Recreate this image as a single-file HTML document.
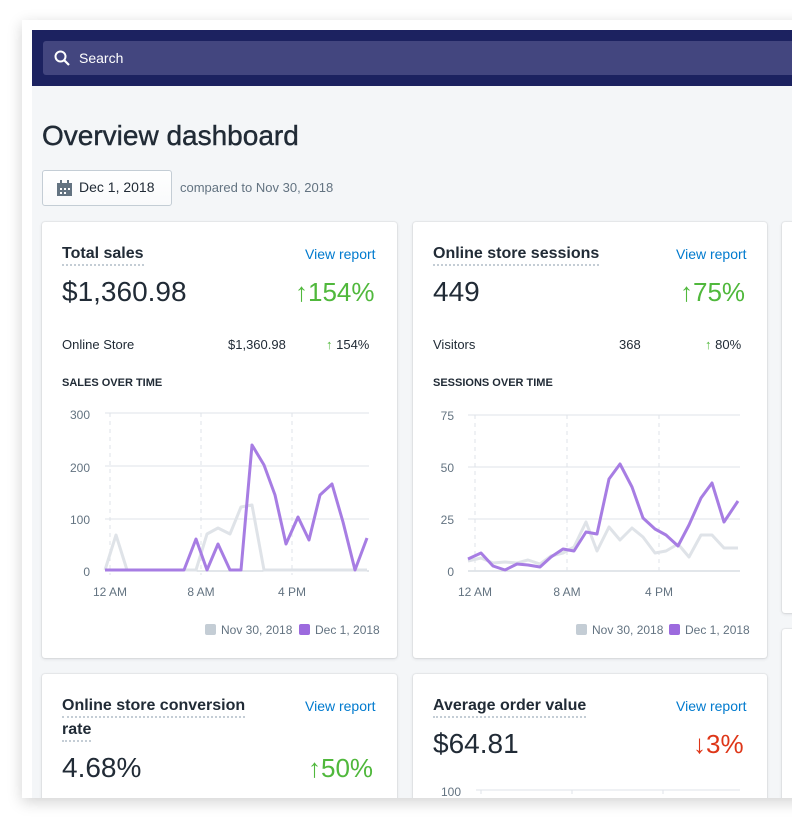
<!DOCTYPE html>
<html><head><meta charset="utf-8"><style>
*{margin:0;padding:0;box-sizing:border-box}
body{width:792px;height:840px;background:#fff;position:relative;overflow:hidden;font-family:"Liberation Sans",sans-serif;color:#212b36}
.win{position:absolute;left:22px;top:20px;width:800px;height:778px;background:#fff;box-shadow:0 4px 14px rgba(0,0,0,.18)}
.main{position:absolute;left:32px;top:30px;width:780px;height:768px;background:#f4f6f8;overflow:hidden}
.nav{position:absolute;left:0;top:0;width:780px;height:56px;background:#1c2260}
.search{position:absolute;left:11px;top:11px;width:760px;height:34px;background:#43467f;border-radius:3px;color:#fff;font-size:14px}
.card{position:absolute;background:#fff;border-radius:3px;box-shadow:0 0 0 1px rgba(63,63,68,.05),0 1px 3px rgba(63,63,68,.15)}
.t{position:absolute;white-space:nowrap}
.title{font-size:16px;font-weight:bold;color:#212b36;border-bottom:2px dotted #c4cdd5;line-height:20px}
.link{font-size:14px;color:#007ace}
.big{font-size:28px;color:#212b36}
.up{font-size:26px;color:#50b83c}
.sm{font-size:13px;color:#212b36}
.cap{font-size:11px;font-weight:bold;color:#212b36}
</style></head><body>
<div class="win"></div>
<div class="main">
 <div class="nav"><div class="search">
  <svg style="position:absolute;left:11px;top:9px" width="16" height="16" viewBox="0 0 16 16"><circle cx="6.5" cy="6.5" r="5" fill="none" stroke="#fff" stroke-width="2"/><line x1="10" y1="10" x2="15" y2="15" stroke="#fff" stroke-width="2.2"/></svg>
  <span class="t" style="left:36px;top:9px;font-size:14px">Search</span></div></div>
 <div class="t" style="left:10px;top:90px;font-size:28px;color:#212b36;-webkit-text-stroke:0.4px #212b36">Overview dashboard</div>
 <div style="position:absolute;left:10px;top:140px;width:130px;height:36px;background:linear-gradient(#fff,#f9fafb);border:1px solid #c4cdd5;border-radius:3px"></div>
 <svg style="position:absolute;left:24px;top:150px" width="17" height="17" viewBox="0 0 17 17"><rect x="1" y="3" width="15" height="13" fill="#637381"/><rect x="4" y="0" width="2" height="4" fill="#637381"/><rect x="11" y="0" width="2" height="4" fill="#637381"/><g fill="#fff"><rect x="4" y="8" width="2" height="2"/><rect x="8" y="8" width="2" height="2"/><rect x="12" y="8" width="2" height="2"/><rect x="4" y="12" width="2" height="2"/><rect x="8" y="12" width="2" height="2"/></g></svg>
 <div class="t" style="left:47px;top:149px;font-size:14px;color:#212b36">Dec 1, 2018</div>
 <div class="t" style="left:148px;top:150px;font-size:13px;color:#637381">compared to Nov 30, 2018</div>
</div>

<!-- card 1 -->
<div class="card" style="left:42px;top:222px;width:355px;height:436px"></div>
<div class="t title" style="left:62px;top:244px">Total sales</div>
<div class="t link" style="left:305px;top:246px">View report</div>
<div class="t big" style="left:62px;top:276px">$1,360.98</div>
<div class="t up" style="left:295px;top:277px">↑154%</div>
<div class="t sm" style="left:62px;top:337px">Online Store</div>
<div class="t sm" style="left:228px;top:337px">$1,360.98</div>
<div class="t sm" style="left:326px;top:337px"><span style="color:#50b83c">↑</span> 154%</div>
<div class="t cap" style="left:62px;top:377px">SALES OVER TIME</div>

<!-- card 2 -->
<div class="card" style="left:413px;top:222px;width:354px;height:436px"></div>
<div class="t title" style="left:433px;top:244px">Online store sessions</div>
<div class="t link" style="left:676px;top:246px">View report</div>
<div class="t big" style="left:433px;top:276px">449</div>
<div class="t up" style="left:680px;top:277px">↑75%</div>
<div class="t sm" style="left:433px;top:337px">Visitors</div>
<div class="t sm" style="left:619px;top:337px">368</div>
<div class="t sm" style="left:705px;top:337px"><span style="color:#50b83c">↑</span> 80%</div>
<div class="t cap" style="left:433px;top:377px">SESSIONS OVER TIME</div>

<!-- bottom + right (clipped) -->
<div style="position:absolute;left:0;top:0;width:792px;height:798px;overflow:hidden">
<div class="card" style="left:782px;top:222px;width:40px;height:391px"></div>
<div class="card" style="left:782px;top:629px;width:40px;height:200px"></div>
<div class="card" style="left:42px;top:674px;width:355px;height:200px"></div>
<div class="card" style="left:413px;top:674px;width:354px;height:200px"></div>
<div class="t title" style="left:62px;top:696px;border:none">Online store conversion</div>
<div style="position:absolute;left:62px;top:716px;width:183px;border-bottom:2px dotted #c4cdd5"></div>
<div class="t title" style="left:62px;top:720px">rate</div>
<div class="t link" style="left:305px;top:698px">View report</div>
<div class="t big" style="left:62px;top:752px">4.68%</div>
<div class="t up" style="left:308px;top:753px">↑50%</div>
<div class="t title" style="left:433px;top:696px">Average order value</div>
<div class="t link" style="left:676px;top:698px">View report</div>
<div class="t big" style="left:433px;top:728px">$64.81</div>
<div class="t up" style="left:693px;top:729px;color:#de3618">↓3%</div>
<div class="t" style="left:441px;top:785px;font-size:12px;color:#637381">100</div>
<svg style="position:absolute;left:0;top:0" width="792" height="798"><line x1="476" y1="790" x2="740" y2="790" stroke="#dfe3e8"/><g stroke="#dfe3e8" stroke-dasharray="4,4"><line x1="481" y1="790" x2="481" y2="800"/><line x1="572" y1="790" x2="572" y2="800"/><line x1="663" y1="790" x2="663" y2="800"/></g></svg>
</div>

<svg style="position:absolute;left:0;top:0" width="792" height="840" font-family="Liberation Sans" font-size="12" fill="#637381">
<g stroke="#dfe3e8" stroke-width="1"><line x1="105" y1="413" x2="369" y2="413"/><line x1="105" y1="466" x2="369" y2="466"/><line x1="105" y1="519" x2="369" y2="519"/><line x1="105" y1="571" x2="369" y2="571" stroke="#c4cdd5"/></g>
<g stroke="#dfe3e8" stroke-dasharray="4,4"><line x1="110" y1="413" x2="110" y2="575"/><line x1="201" y1="413" x2="201" y2="575"/><line x1="292" y1="413" x2="292" y2="575"/></g>
<g text-anchor="end"><text x="90" y="419">300</text><text x="90" y="472">200</text><text x="90" y="524">100</text><text x="90" y="576">0</text></g>
<g text-anchor="middle"><text x="110" y="596">12 AM</text><text x="201" y="596">8 AM</text><text x="292" y="596">4 PM</text></g>
<polyline fill="none" stroke="#dfe3e8" stroke-width="3" stroke-linejoin="round" points="105,570 116,535 127,570 196,570 207,534 218,528 230,534 241,507 252,505 264,570 367,570"/>
<polyline fill="none" stroke="#a77de3" stroke-width="3" stroke-linejoin="round" points="105,570 184,570 196,539 207,570 218,544 230,570 241,570 252,445 264,465 275,495 286,544 298,517 309,540 320,495 332,484 343,522 355,570 367,538"/>
<rect x="205" y="624" width="11" height="11" rx="2" fill="#c4cdd5"/><text x="221" y="634">Nov 30, 2018</text>
<rect x="299" y="624" width="11" height="11" rx="2" fill="#9c6ade"/><text x="315" y="634">Dec 1, 2018</text>
<g stroke="#dfe3e8"><line x1="468" y1="415" x2="740" y2="415"/><line x1="468" y1="467" x2="740" y2="467"/><line x1="468" y1="519" x2="740" y2="519"/><line x1="468" y1="571" x2="740" y2="571" stroke="#c4cdd5"/></g>
<g stroke="#dfe3e8" stroke-dasharray="4,4"><line x1="475" y1="415" x2="475" y2="575"/><line x1="567" y1="415" x2="567" y2="575"/><line x1="659" y1="415" x2="659" y2="575"/></g>
<g text-anchor="end"><text x="454" y="420">75</text><text x="454" y="472">50</text><text x="454" y="524">25</text><text x="454" y="576">0</text></g>
<g text-anchor="middle"><text x="475" y="596">12 AM</text><text x="567" y="596">8 AM</text><text x="659" y="596">4 PM</text></g>
<polyline fill="none" stroke="#dfe3e8" stroke-width="3" stroke-linejoin="round" points="468,561 481,558 493,563 505,562 517,563 528,560 540,564 551,556 563,553 574,547 586,522 597,551 609,527 620,540 632,528 643,537 655,553 666,551 678,544 689,557 701,535 712,535 724,548 738,548"/>
<polyline fill="none" stroke="#a77de3" stroke-width="3" stroke-linejoin="round" points="468,559 481,553 493,566 505,570 517,564 528,565 540,567 551,557 563,549 574,551 586,532 597,534 609,479 620,464 632,487 643,518 655,529 666,535 678,546 689,525 701,498 712,483 724,522 738,501"/>
<rect x="576" y="624" width="11" height="11" rx="2" fill="#c4cdd5"/><text x="592" y="634">Nov 30, 2018</text>
<rect x="669" y="624" width="11" height="11" rx="2" fill="#9c6ade"/><text x="685" y="634">Dec 1, 2018</text>
</svg>
</body></html>
